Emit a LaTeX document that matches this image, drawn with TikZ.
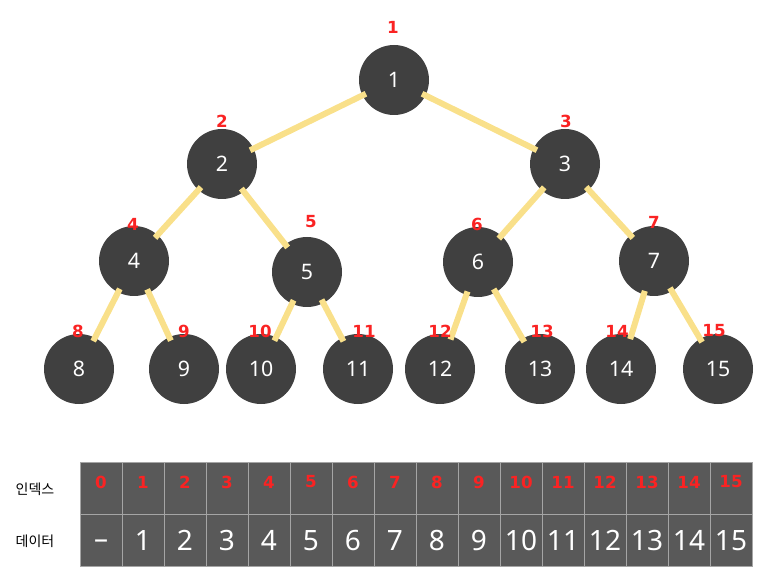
\documentclass[tikz,border=0pt]{standalone}
\usepackage{fontspec}
\setmainfont{Noto Sans}
\newfontfamily\krfont{Noto Sans CJK KR}
\newfontfamily\redfont{DejaVu Sans}
\usetikzlibrary{positioning}
\definecolor{nodegray}{RGB}{64,64,64}
\definecolor{cellgray}{RGB}{89,89,89}
\definecolor{gridgray}{RGB}{165,165,165}
\definecolor{edgeyellow}{RGB}{249,224,138}
\definecolor{idxred}{RGB}{250,35,35}

\begin{document}
\begin{tikzpicture}[x=0.75pt, y=-0.75pt,
  heapnode/.style={circle, fill=nodegray, minimum size=52.5pt, inner sep=0pt, text=white, font=\fontsize{16}{16}\selectfont},
  link/.style={draw=edgeyellow, line width=4.5pt, shorten <=-3pt, shorten >=-3pt},
  posnum/.style={text=idxred, inner sep=0pt, font=\redfont\fontsize{12.5}{12.5}\selectfont\bfseries},
  cell/.style={rectangle, draw=gridgray, fill=cellgray, line width=0.6pt, minimum width=31.5pt, minimum height=39pt, inner sep=0pt},
  datnum/.style={text=white, text height=15pt, text depth=0pt, font=\fontsize{21}{21}\selectfont},
  rowname/.style={font=\krfont\fontsize{10.5}{10.5}\selectfont},
]
  \useasboundingbox (0,0) rectangle (764,577);

  % heap tree
  \foreach \n/\x/\y in {1/394/80, 2/222/164, 3/565/164, 4/134/261, 5/307/272, 6/478/262, 7/654/261,
      8/79/369, 9/184/369, 10/261/369, 11/358/369, 12/440/369, 13/540/369, 14/621/369, 15/718/369}
    \node[heapnode] (n\n) at (\x,\y) {\n};

  \foreach \a/\b in {1/2, 1/3, 2/4, 2/5, 3/6, 3/7, 4/8, 4/9, 5/10, 5/11, 6/12, 6/13, 7/14, 7/15}
    \draw[link] (n\a) -- (n\b);

  % position numbers
  \foreach \n/\x/\y in {1/393/27, 2/222/121, 3/566/121, 4/133/224, 5/311/222, 6/477/224, 7/654/222,
      8/78/331, 9/184/331, 10/260/331, 11/364/331, 12/440/331, 13/542/331, 14/617/331, 15/714/331}
    \node[posnum] (p\n) at (\x,\y) {\n};

  % array
  \node[rowname] (idxname) at (35,489) {인덱스};
  \node[rowname] (datname) at (35,541) {데이터};
  \foreach \i in {0,...,15} {
    \node[cell] (c\i) at ({101+42*\i},488) {};
    \node[cell, datnum] (d\i) at ({101+42*\i},540) {\ifnum\i=0 \raisebox{1.5pt}{--}\else\i\fi};
    \node[posnum] (ci\i) at ({101+42*\i},482) {\i};
  }
\end{tikzpicture}
\end{document}
